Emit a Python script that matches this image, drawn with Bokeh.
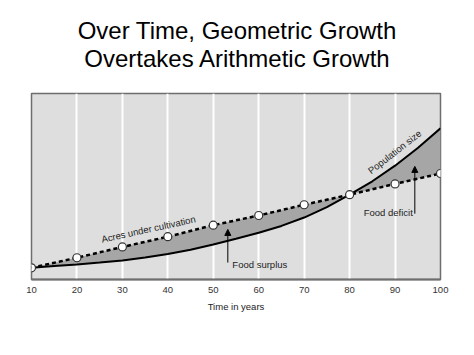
from bokeh.plotting import figure
from bokeh.models import Range1d, Label, Arrow, NormalHead, FixedTicker, Div
from bokeh.layouts import column
from bokeh.embed import file_html
from bokeh.resources import INLINE

# ---- data ----
years = [10, 20, 30, 40, 50, 60, 70, 80, 90, 100]
acres = [6.3, 11.7, 17.5, 23.0, 29.2, 34.4, 40.2, 45.6, 51.4, 57.0]

pop_years = [10, 15, 20, 25, 30, 35, 40, 45, 50, 55, 60, 65, 70, 75, 80, 85, 90, 95, 100]
population = [6.3, 7.2, 8.1, 9.1, 10.2, 11.8, 13.7, 16.0, 18.8, 21.9, 25.1, 28.8, 33.3,
              38.9, 45.6, 52.8, 61.2, 70.7, 81.3]

tick_values = [10, 20, 30, 40, 50, 60, 70, 80, 90, 100]
title_lines = ["Over Time, Geometric Growth", "Overtakes Arithmetic Growth"]
x_label = "Time in years"

FONT = "Liberation Sans"

# ---- title block ----
title_div = Div(
    text=('<div style="width:474px;padding-top:17px;text-align:center;'
          'font-family:\'Liberation Sans\';font-size:24px;line-height:27.7px;color:black;">'
          + "<br>".join(title_lines) + "</div>"),
    width=474, height=92, margin=0)

# ---- chart ----
p = figure(width=474, height=263, output_backend="svg", toolbar_location=None, title=None,
           x_range=Range1d(10, 100), y_range=Range1d(0, 100),
           min_border_left=31, min_border_right=34, min_border_top=1, min_border_bottom=76)

p.background_fill_color = "#dedede"
p.border_fill_color = "white"
p.outline_line_color = "#6e6e6e"
p.outline_line_width = 1.5

p.yaxis.visible = False
p.ygrid.visible = False
p.xgrid.ticker = FixedTicker(ticks=tick_values[1:-1])
p.xgrid.grid_line_color = "white"
p.xgrid.grid_line_width = 2

ax = p.xaxis[0]
ax.ticker = FixedTicker(ticks=tick_values)
ax.axis_line_color = "#6e6e6e"
ax.axis_line_width = 2
ax.major_tick_line_color = None
ax.minor_tick_line_color = None
ax.major_tick_out = 0
ax.major_tick_in = 0
ax.major_label_standoff = 7
ax.major_label_text_font = FONT
ax.major_label_text_font_size = "9.5px"
ax.major_label_text_color = "#333333"
ax.axis_label = x_label
ax.axis_label_text_font = FONT
ax.axis_label_text_font_size = "9.5px"
ax.axis_label_text_font_style = "normal"
ax.axis_label_text_color = "#222222"
ax.axis_label_standoff = 5

# shaded gap between the two series
p.patch(years + pop_years[::-1], acres + population[::-1],
        fill_color="#a6a6a6", line_color=None)

# population curve
p.line(pop_years, population, line_color="black", line_width=2)

# acres line
p.line(years, acres, line_color="black", line_width=2.5, line_dash="4 3")
p.scatter(years, acres, size=8, fill_color="white", line_color="#333333", line_width=1.2)

# annotations
def lab(x, y, text, angle=0.0, size="9.5px", align="left"):
    p.add_layout(Label(x=x, y=y, text=text, angle=angle, text_font=FONT,
                       text_font_size=size, text_color="#222222",
                       text_align=align, text_baseline="alphabetic"))

lab(25.4, 21.6, "Acres under cultivation", angle=0.215)
lab(84.3, 58.0, "Population size", angle=0.66)
lab(54.2, 8.1, "Food surplus")
lab(83.1, 36.2, "Food deficit")

p.add_layout(Arrow(end=NormalHead(size=6, fill_color="black", line_color="black"),
                   x_start=53.2, y_start=9.1, x_end=53.2, y_end=26.9,
                   line_color="black", line_width=1))
p.add_layout(Arrow(end=NormalHead(size=6, fill_color="black", line_color="black"),
                   x_start=94.35, y_start=35.4, x_end=94.35, y_end=60.8,
                   line_color="black", line_width=1))

layout = column(title_div, p, spacing=0)
open("out.html", "w").write(file_html(layout, INLINE))
